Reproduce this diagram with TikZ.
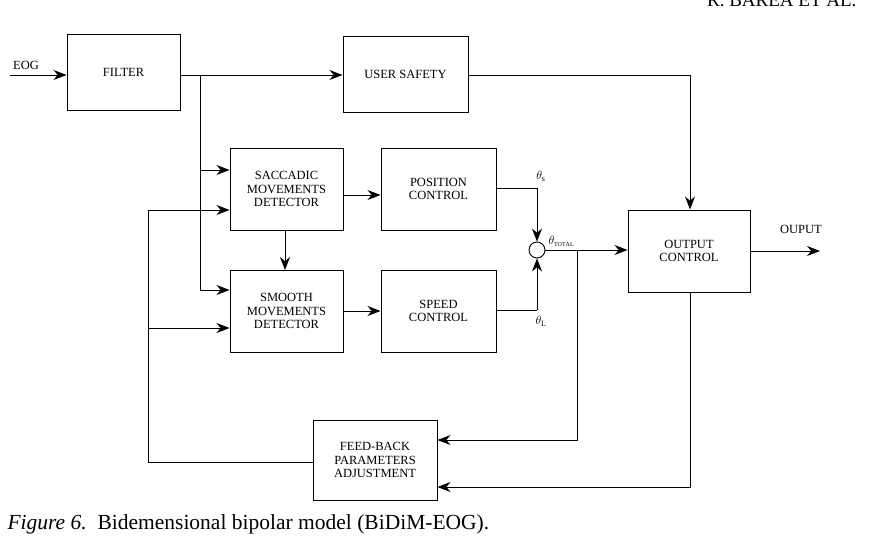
\documentclass[tikz,border=0pt]{standalone}
\usepackage{fontspec}
\setmainfont{Liberation Serif}
\usetikzlibrary{arrows.meta}
\begin{document}
\begin{tikzpicture}[x=1pt,y=-1pt,
  blk/.style={draw,line width=1pt,align=center,font=\fontsize{12.5}{13.5}\selectfont,inner sep=0pt},
  ln/.style={line width=0.9pt},
  ar/.style={ln,-{Stealth[length=13pt,width=10pt]}},
  lab/.style={font=\fontsize{12}{13}\selectfont}]
\useasboundingbox (0,0) rectangle (882,559);
\node[anchor=north east,font=\fontsize{19}{21}\selectfont] (hdr) at (860,-10) {R. BAREA ET AL.};
\node[blk,minimum width=113,minimum height=75] (filter) at (123.5,72.5) {FILTER};
\node[blk,minimum width=125,minimum height=75] (safety) at (405.5,74.5) {USER SAFETY};
\node[blk,minimum width=113,minimum height=82] (sacc) at (286.5,189) {SACCADIC\\MOVEMENTS\\DETECTOR};
\node[blk,minimum width=115,minimum height=82] (pos) at (438.5,189) {POSITION\\CONTROL};
\node[blk,minimum width=113,minimum height=82] (smooth) at (286.5,311) {SMOOTH\\MOVEMENTS\\DETECTOR};
\node[blk,minimum width=115,minimum height=82] (speed) at (438.5,311) {SPEED\\CONTROL};
\node[blk,minimum width=122,minimum height=82] (out) at (689,251) {OUTPUT\\CONTROL};
\node[blk,minimum width=124,minimum height=80] (fb) at (375,460) {FEED-BACK\\PARAMETERS\\ADJUSTMENT};
\node[draw,circle,line width=0.9pt,minimum size=16,inner sep=0pt] (sum) at (537,250) {};
\coordinate (in) at (10,75);
\node[font=\fontsize{12.5}{13.5}\selectfont] (eog) at (26,65) {EOG};
\draw[ar] (in) -- (filter.west|-in);
\coordinate (b1) at (200,75);
\draw[ar] (filter.east|-b1) -- (safety.west|-b1);
\draw[ln] (b1) -- (200,290);
\draw[ar] (200,170) -- (sacc.west|-200,170);
\draw[ar] (200,290) -- (smooth.west|-200,290);
\draw[ar] (sacc.east|-0,195) -- (pos.west|-0,195);
\draw[ar] (smooth.east|-0,311) -- (speed.west|-0,311);
\draw[ar] (285,230) -- (285,270);
\draw[ln] (pos.east|-0,188) -- (537,188);
\draw[ar] (537,188) -- (sum.north);
\node[lab] (ts) at (541,176) {$\theta_{\mathrm{s}}$};
\draw[ln] (speed.east|-0,310) -- (537,310);
\draw[ar] (537,310) -- (sum.south);
\node[lab] (tl) at (541,321) {$\theta_{\mathrm{L}}$};
\node[lab,anchor=south west] (tt) at (545,250) {$\theta_{\scriptscriptstyle\mathrm{TOTAL}}$};
\draw[ar] (sum.east) -- (out.west|-sum);
\draw[ar] (safety.east|-0,75) -- (690,75) -- (out.north-|690,0);
\draw[ar] (out.east) -- (820,251);
\node[font=\fontsize{12.5}{13.5}\selectfont] (oup) at (801,229) {OUPUT};
\draw[ar] (577,250) -- (577,440) -- (fb.east|-0,440);
\draw[ar] (out.south-|690,0) -- (690,487) -- (fb.east|-0,487);
\draw[ln] (fb.west|-0,462) -- (148,462) -- (148,210);
\draw[ar] (148,210) -- (sacc.west|-0,210);
\draw[ar] (148,328) -- (smooth.west|-0,328);
\node[anchor=west,font=\fontsize{21.5}{23}\selectfont] (cap) at (4,524) {\textit{Figure 6.}\ \ Bidemensional bipolar model (BiDiM-EOG).};
\end{tikzpicture}
\end{document}
